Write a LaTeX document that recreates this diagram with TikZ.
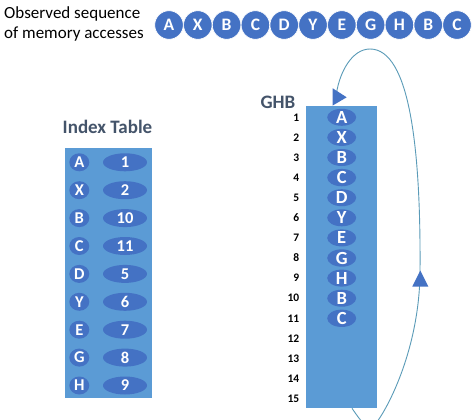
\documentclass[tikz,border=0pt]{standalone}
\usepackage{fontspec}
\setmainfont{Carlito}
\usetikzlibrary{shapes.geometric}
\definecolor{dkblue}{HTML}{4472C4}
\definecolor{mdblue}{HTML}{5B9BD5}
\definecolor{ttl}{HTML}{44546A}
\definecolor{loopc}{HTML}{5A9BB8}
\tikzset{
  seqc/.style={circle, fill=dkblue, draw=white, line width=0.6pt, minimum size=28.5pt, inner sep=0pt, text=white, font=\bfseries\fontsize{17.5}{17.5}\selectfont},
  idxl/.style={ellipse, fill=dkblue, minimum width=20pt, minimum height=18pt, inner sep=0pt, text=white, font=\bfseries\fontsize{16.5}{16.5}\selectfont},
  idxn/.style={ellipse, fill=dkblue, minimum width=44pt, minimum height=18pt, inner sep=0pt, text=white, font=\bfseries\fontsize{16.5}{16.5}\selectfont},
  ghbe/.style={ellipse, fill=dkblue, minimum width=29pt, minimum height=17pt, inner sep=0pt, text=white, font=\bfseries\fontsize{18.5}{18.5}\selectfont},
  ghbn/.style={anchor=east, inner sep=0pt, font=\bfseries\fontsize{11.5}{11.5}\selectfont},
  ttlstyle/.style={inner sep=0pt, text=ttl, font=\bfseries\fontsize{19}{19}\selectfont},
  panel/.style={fill=mdblue, draw=none},
  looparc/.style={draw=loopc, line width=0.9pt},
  tip/.style={fill=dkblue, draw=none}
}
\begin{document}
\begin{tikzpicture}[x=1pt, y=-1pt]
\useasboundingbox (0,0) rectangle (474,420);
\clip (0,0) rectangle (474,420);
\fill[white] (0,0) rectangle (474,420);

% observed sequence
\node[anchor=west, align=left, inner sep=0pt, font=\fontsize{17}{20}\selectfont] (obs) at (4,24) {Observed sequence\\of memory accesses};
\foreach \L [count=\i] in {A,X,B,C,D,Y,E,G,H,B,C} {
  \node[seqc] (s\i) at ({169+28.8*(\i-1)},25) {\L};
}

% index table
\node[ttlstyle] (idxt) at (107.5,127) {Index Table};
\fill[panel] (65,148.3) rectangle (151.7,397.7);
\foreach \L/\N [count=\i] in {A/1,X/2,B/10,C/11,D/5,Y/6,E/7,G/8,H/9} {
  \node[idxl] (il\i) at (79.3,{162.3+27.9*(\i-1)}) {\L};
  \node[idxn] (in\i) at (125,{162.3+27.9*(\i-1)}) {\N};
}

% GHB
\node[ttlstyle] (ghbt) at (278,102.5) {GHB};
\fill[panel] (305.7,106) rectangle (377.3,408.3);
\coordinate (ghbbot) at (352,408.3);
\coordinate (ghbtop) at (336.7,92);
\foreach \i in {1,...,15} {
  \node[ghbn] (gn\i) at (299.5,{117.3+20.1*(\i-1)}) {\i};
}
\foreach \L [count=\i] in {A,X,B,C,D,Y,E,G,H,B,C} {
  \node[ghbe] (ge\i) at (341.7,{117.3+20.1*(\i-1)}) {\L};
}

% loop arrow
\coordinate (lbot) at (371,428);
\coordinate (lright) at (420,273);
\coordinate (ltop) at (370,49);
\draw[looparc] (ghbbot) .. controls (360,420) and (366,428) .. (lbot)
  .. controls (378,426) and (419,360) .. (lright)
  .. controls (421,150) and (410,49) .. (ltop)
  .. controls (352,49) and (340,72) .. (ghbtop);
\fill[tip] (332.7,88.3) -- (346.7,97.3) -- (332.7,105.5) -- cycle;
\fill[tip] (420.3,270.5) -- (428.3,286.5) -- (412.3,286.5) -- cycle;
\end{tikzpicture}
\end{document}
